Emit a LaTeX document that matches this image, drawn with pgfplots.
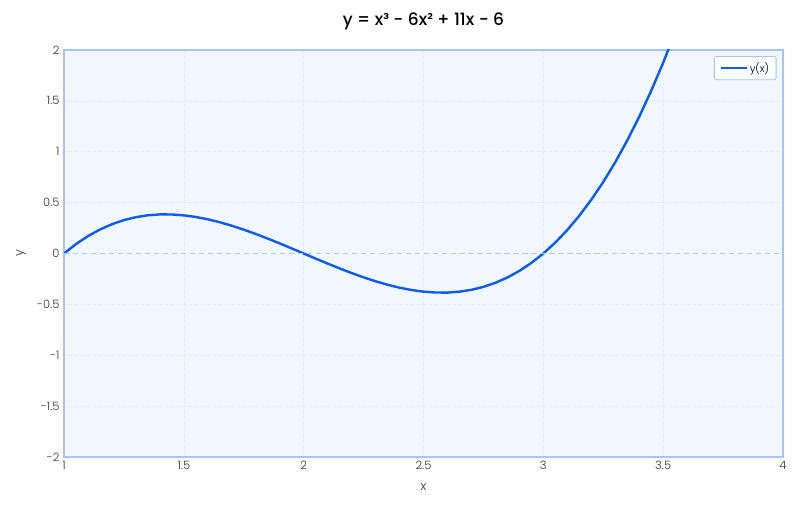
\documentclass[border=0pt]{standalone}
\usepackage{fontspec}
\setmainfont{Poppins}
\newfontfamily\pmed{Poppins Medium}
\newfontfamily\plight{Poppins Light}
\usepackage{pgfplots}
\pgfplotsset{compat=1.18}
\definecolor{curve}{HTML}{0A5CF0}
\definecolor{bgfill}{HTML}{F2F7FE}
\definecolor{frame}{HTML}{A3C5F7}
\definecolor{gridc}{HTML}{E0E6EF}
\definecolor{zeroline}{RGB}{170,202,249}
\definecolor{tickc}{HTML}{333333}
\begin{document}
\begin{tikzpicture}
\begin{axis}[
  scale only axis,
  width=719pt, height=407pt,
  xmin=1, xmax=4, ymin=-2, ymax=2,
  xtick={1,1.5,2,2.5,3,3.5,4},
  ytick={-2,-1.5,-1,-0.5,0.5,1,1.5,2},
  extra y ticks={0},
  extra y tick style={grid=none},
  /pgf/number format/assume math mode=true,
  ticklabel style={font=\plight\fontsize{11.5}{13}\selectfont, text=tickc},
  xticklabel style={yshift=-1pt},
  yticklabel style={xshift=-1pt},
  major tick length=0pt,
  axis line style={frame, line width=1.3pt},
  axis background/.style={fill=bgfill},
  grid=major,
  grid style={gridc, dotted, line width=0.6pt},
  title={y = x³ - 6x² + 11x - 6},
  title style={font=\pmed\fontsize{17}{19}\selectfont, yshift=11pt},
  xlabel={x}, ylabel={y},
  label style={font=\plight\fontsize{12.5}{14}\selectfont, text=tickc},
  xlabel style={yshift=-7pt},
  ylabel style={yshift=4pt},
  legend style={at={(0.991,0.985)}, anchor=north east, draw=frame, line width=0.8pt, rounded corners=2pt, fill=white, fill opacity=0.8, text opacity=1, font=\plight\fontsize{10.5}{12}\selectfont, inner xsep=5pt, inner ysep=4pt},
  legend image code/.code={\draw[#1] (0pt,0pt) -- (26pt,0pt);},
  legend cell align=left,
]
\addplot[only marks, forget plot, color=zeroline, mark=-, mark size=2.6pt, mark options={line width=1.3pt, solid}] coordinates {
(1.0110,0) (1.0485,0) (1.0860,0) (1.1235,0) (1.1610,0) (1.1985,0) (1.2360,0) (1.2735,0)
(1.3110,0) (1.3485,0) (1.3860,0) (1.4235,0) (1.4610,0) (1.4985,0) (1.5360,0) (1.5735,0)
(1.6110,0) (1.6485,0) (1.6860,0) (1.7235,0) (1.7610,0) (1.7985,0) (1.8360,0) (1.8735,0)
(1.9110,0) (1.9485,0) (1.9860,0) (2.0235,0) (2.0610,0) (2.0985,0) (2.1360,0) (2.1735,0)
(2.2110,0) (2.2485,0) (2.2860,0) (2.3235,0) (2.3610,0) (2.3985,0) (2.4360,0) (2.4735,0)
(2.5110,0) (2.5485,0) (2.5860,0) (2.6235,0) (2.6610,0) (2.6985,0) (2.7360,0) (2.7735,0)
(2.8110,0) (2.8485,0) (2.8860,0) (2.9235,0) (2.9610,0) (2.9985,0) (3.0360,0) (3.0735,0)
(3.1110,0) (3.1485,0) (3.1860,0) (3.2235,0) (3.2610,0) (3.2985,0) (3.3360,0) (3.3735,0)
(3.4110,0) (3.4485,0) (3.4860,0) (3.5235,0) (3.5610,0) (3.5985,0) (3.6360,0) (3.6735,0)
(3.7110,0) (3.7485,0) (3.7860,0) (3.8235,0) (3.8610,0) (3.8985,0) (3.9360,0) (3.9735,0)
};
\addplot[curve, line width=2.4pt] coordinates {
(1.00,0) (1.05,0.092625) (1.10,0.171) (1.15,0.235875) (1.20,0.288) (1.25,0.328125)
(1.30,0.357) (1.35,0.375375) (1.40,0.384) (1.45,0.383625) (1.50,0.375) (1.55,0.358875)
(1.60,0.336) (1.65,0.307125) (1.70,0.273) (1.75,0.234375) (1.80,0.192) (1.85,0.146625)
(1.90,0.099) (1.95,0.049875) (2.00,0)
(2.05,-0.049875) (2.10,-0.099) (2.15,-0.146625) (2.20,-0.192) (2.25,-0.234375)
(2.30,-0.273) (2.35,-0.307125) (2.40,-0.336) (2.45,-0.358875) (2.50,-0.375)
(2.55,-0.383625) (2.60,-0.384) (2.65,-0.375375) (2.70,-0.357) (2.75,-0.328125)
(2.80,-0.288) (2.85,-0.235875) (2.90,-0.171) (2.95,-0.092625) (3.00,0)
(3.05,0.107625) (3.10,0.231) (3.15,0.370875) (3.20,0.528) (3.25,0.703125)
(3.30,0.897) (3.35,1.110375) (3.40,1.344) (3.45,1.598625) (3.50,1.875) (3.55,2.173875)
};
\addlegendentry{y(x)}
\end{axis}
\path (current axis.south west) ++(-64pt,-51pt) coordinate (bbsw);
\path (current axis.north east) ++(17pt,50pt) coordinate (bbne);
\useasboundingbox (bbsw) rectangle (bbne);
\end{tikzpicture}
\end{document}
